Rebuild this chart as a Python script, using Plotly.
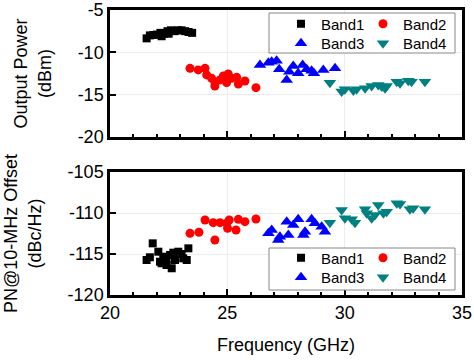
import plotly.graph_objects as go
from plotly.subplots import make_subplots

# ---------- data ----------
# Output power (dBm)
b1_f_p = [21.56, 21.70, 21.85, 22.0, 22.15, 22.3, 22.45, 22.6, 22.75, 22.9, 23.05, 23.2, 23.35, 23.5, 22.2, 22.5]
b1_p = [-8.35, -8.0, -7.95, -7.9, -7.7, -7.8, -7.5, -7.4, -7.5, -7.4, -7.4, -7.5, -7.6, -7.7, -8.1, -7.8]

b2_f_p = [23.41, 23.76, 24.05, 24.12, 24.33, 24.47, 24.47, 24.69, 24.83, 24.97, 25.04, 25.18, 25.40, 25.47, 25.75, 26.22]
b2_p = [-11.89, -12.08, -11.89, -12.67, -13.07, -13.46, -13.97, -13.26, -12.79, -13.58, -12.56, -13.07, -12.95, -13.74, -13.38, -14.17]

b3_f_p = [26.39, 26.75, 26.89, 27.10, 27.21, 27.53, 27.64, 27.81, 28.02, 28.21, 28.38, 28.59, 28.69, 29.09, 29.59]
b3_p = [-11.49, -11.22, -11.10, -10.98, -12.0, -13.26, -12.28, -11.61, -12.47, -11.49, -12.0, -12.17, -12.47, -12.08, -11.89]

b4_f_p = [29.37, 29.87, 30.01, 30.37, 30.51, 30.87, 31.15, 31.43, 31.58, 31.72, 31.79, 32.22, 32.36, 32.71, 32.85, 33.42]
b4_p = [-13.58, -14.64, -14.37, -14.52, -14.37, -14.25, -13.97, -13.85, -14.05, -14.25, -13.97, -13.46, -13.66, -13.35, -13.46, -13.46]

# Phase noise @10 MHz offset (dBc/Hz)
b1_f_n = [21.82, 21.56, 21.70, 22.06, 22.13, 22.27, 22.41, 22.56, 22.63, 22.70, 22.77, 22.91, 23.05, 23.12, 23.27, 23.34, 22.20, 22.41]
b1_n = [-113.70, -115.73, -115.40, -114.72, -115.94, -115.33, -115.73, -115.12, -116.74, -114.84, -115.73, -114.72, -115.0, -115.53, -115.73, -114.31, -116.13, -116.34]

b2_f_n = [23.41, 23.79, 24.05, 24.40, 24.47, 24.69, 24.97, 25.01, 25.08, 25.37, 25.47, 25.75, 26.22]
b2_n = [-112.48, -112.35, -110.85, -111.18, -113.29, -111.18, -111.26, -111.87, -110.85, -112.07, -110.77, -111.06, -110.73]

b3_f_n = [26.75, 26.89, 27.17, 27.24, 27.53, 27.60, 27.81, 28.02, 28.24, 28.31, 28.59, 28.73, 29.02, 29.16]
b3_n = [-112.48, -112.07, -113.29, -112.89, -111.06, -112.68, -111.46, -110.77, -112.68, -112.28, -110.77, -111.26, -111.67, -112.28]

b4_f_n = [29.37, 29.87, 30.01, 30.30, 30.44, 30.87, 30.94, 31.15, 31.29, 31.43, 31.65, 31.79, 32.22, 32.36, 32.78, 32.92, 33.42]
b4_n = [-111.18, -109.63, -110.65, -110.77, -111.18, -109.55, -110.04, -110.65, -110.24, -109.02, -110.04, -109.84, -108.82, -108.9, -109.55, -109.43, -109.55]

band_names = ["Band1", "Band2", "Band3", "Band4"]
x_ticks = [20, 25, 30, 35]
p_ticks = [-5, -10, -15, -20]
n_ticks = [-105, -110, -115, -120]

# ---------- styles ----------
colors = ["#000000", "#ff0000", "#0000ff", "#008080"]
symbols = ["square", "circle", "triangle-up", "triangle-down"]
sizes = [8, 9, 11, 11]
FONT = "Liberation Sans, Arial, sans-serif"

# plot-area geometry in window px (used for layout placement)
L, R, T, B = 110, 462, 10, 295
W, H = R - L, B - T
def fx(px):
    return (px - L) / W
def fy(py):
    return (B - py) / H

fig = make_subplots(rows=2, cols=1, vertical_spacing=0.12)

top_sets = [(b1_f_p, b1_p), (b2_f_p, b2_p), (b3_f_p, b3_p), (b4_f_p, b4_p)]
bot_sets = [(b1_f_n, b1_n), (b2_f_n, b2_n), (b3_f_n, b3_n), (b4_f_n, b4_n)]

# one legend per entry so the 2x2 legend grid can be placed exactly
col_x = [281, 363, 281, 363]
top_row_y = [24, 24, 43.5, 43.5]
bot_row_y = [258, 258, 277.5, 277.5]

leg_common = dict(orientation="v", xanchor="left", yanchor="middle",
                  bgcolor="rgba(0,0,0,0)", borderwidth=0,
                  font=dict(family=FONT, size=15, color="black"),
                  itemwidth=30, tracegroupgap=0)

legends = {}
for i, (xs, ys) in enumerate(top_sets):
    key = "legend" if i == 0 else f"legend{i + 1}"
    legends[key] = dict(x=fx(col_x[i]), y=fy(top_row_y[i]), **leg_common)
    fig.add_trace(go.Scatter(x=xs, y=ys, mode="markers", name=band_names[i],
                             marker=dict(color=colors[i], symbol=symbols[i], size=sizes[i]),
                             legend=key), row=1, col=1)
for i, (xs, ys) in enumerate(bot_sets):
    key = f"legend{i + 5}"
    legends[key] = dict(x=fx(col_x[i]), y=fy(bot_row_y[i]), **leg_common)
    fig.add_trace(go.Scatter(x=xs, y=ys, mode="markers", name=band_names[i],
                             marker=dict(color=colors[i], symbol=symbols[i], size=sizes[i]),
                             legend=key), row=2, col=1)

axis_common = dict(showline=True, linewidth=2.5, linecolor="black", mirror=True,
                   ticks="inside", ticklen=6, tickwidth=2, tickcolor="black",
                   showgrid=True, gridcolor="#ececec", gridwidth=1, zeroline=False,
                   automargin=False,
                   tickfont=dict(family=FONT, size=18, color="black"))

fig.update_xaxes(range=[20, 35], tickvals=x_ticks,
                 minor=dict(dtick=1, ticks="inside", ticklen=3, tickwidth=1.5, tickcolor="black", showgrid=False),
                 **axis_common)
fig.update_xaxes(showticklabels=False, row=1, col=1)
fig.update_xaxes(title=dict(text="Frequency (GHz)", font=dict(family=FONT, size=18, color="black"), standoff=17),
                 row=2, col=1)

fig.update_yaxes(range=[-20, -5], tickvals=p_ticks, ticktext=[str(v) for v in p_ticks],
                 title=dict(text="Output Power<br>(dBm)", font=dict(family=FONT, size=18, color="black"), standoff=22),
                 row=1, col=1, **axis_common)
fig.update_yaxes(range=[-120, -105], tickvals=n_ticks, ticktext=[str(v) for v in n_ticks],
                 title=dict(text="PN@10-MHz Offset<br>(dBc/Hz)", font=dict(family=FONT, size=18, color="black"), standoff=22),
                 row=2, col=1, **axis_common)

fig.update_layout(
    width=474, height=360,
    margin=dict(l=L, r=474 - R, t=T, b=360 - B, autoexpand=False),
    plot_bgcolor="white", paper_bgcolor="white",
    font=dict(family=FONT, color="black"),
    xaxis=dict(domain=[0, 1]), xaxis2=dict(domain=[0, 1]),
    yaxis=dict(domain=[fy(137), 1.0]), yaxis2=dict(domain=[0.0, fy(172)]),
    showlegend=True,
    shapes=[
        dict(type="rect", xref="paper", yref="paper", layer="above",
             x0=fx(269), x1=fx(455), y0=fy(53), y1=fy(13),
             fillcolor="white", line=dict(color="#888888", width=1)),
        dict(type="rect", xref="paper", yref="paper", layer="above",
             x0=fx(269), x1=fx(455), y0=fy(290), y1=fy(248),
             fillcolor="white", line=dict(color="#888888", width=1)),
    ],
    **legends,
)

# remove the browser's default 8px page margin so the figure sits at (0, 0)
fig.write_html("out.html", config={"displayModeBar": False},
               post_script="document.body.style.margin='0px';")
